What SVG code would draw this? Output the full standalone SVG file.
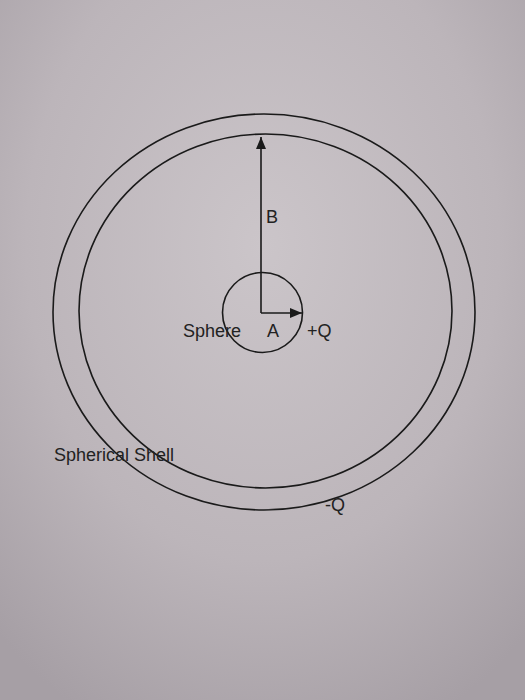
<svg xmlns="http://www.w3.org/2000/svg" width="525" height="700" viewBox="0 0 525 700">
  <defs>
    <radialGradient id="bg" cx="0.5" cy="0.35" r="0.75">
      <stop offset="0" stop-color="#cbc5c9"/>
      <stop offset="0.6" stop-color="#bcb5ba"/>
      <stop offset="1" stop-color="#a69fa5"/>
    </radialGradient>
    <marker id="arrow" viewBox="0 0 12 10" refX="12" refY="5" markerWidth="12" markerHeight="10" markerUnits="userSpaceOnUse" orient="auto">
      <path d="M0,0 L12,5 L0,10 Z" fill="#1a1a1a"/>
    </marker>
    <style>
      .shape { fill: none; stroke: #1a1a1a; stroke-width: 1.6; }
      .conn { fill: none; stroke: #1a1a1a; stroke-width: 1.6; marker-end: url(#arrow); }
      .lbl { font-family: "Liberation Sans", Arial, sans-serif; font-size: 18px; fill: #222; }
    </style>
  </defs>
  <rect width="525" height="700" fill="url(#bg)"/>
  <g id="outer-shell">
    <ellipse class="shape" cx="264" cy="312" rx="211" ry="198"/>
  </g>
  <g id="inner-shell">
    <ellipse class="shape" cx="265.5" cy="311" rx="186.5" ry="177"/>
  </g>
  <g id="sphere">
    <circle class="shape" cx="262.5" cy="312.5" r="40"/>
  </g>
  <g id="connectors">
    <line class="conn" x1="261" y1="313" x2="261" y2="137"/>
    <line class="conn" x1="261" y1="313" x2="302" y2="313"/>
  </g>
  <g id="labels">
    <text class="lbl" x="266" y="223">B</text>
    <text class="lbl" x="183" y="337">Sphere</text>
    <text class="lbl" x="267" y="337">A</text>
    <text class="lbl" x="307" y="337">+Q</text>
    <text class="lbl" x="54" y="461">Spherical Shell</text>
    <text class="lbl" x="325" y="511">-Q</text>
  </g>
</svg>
